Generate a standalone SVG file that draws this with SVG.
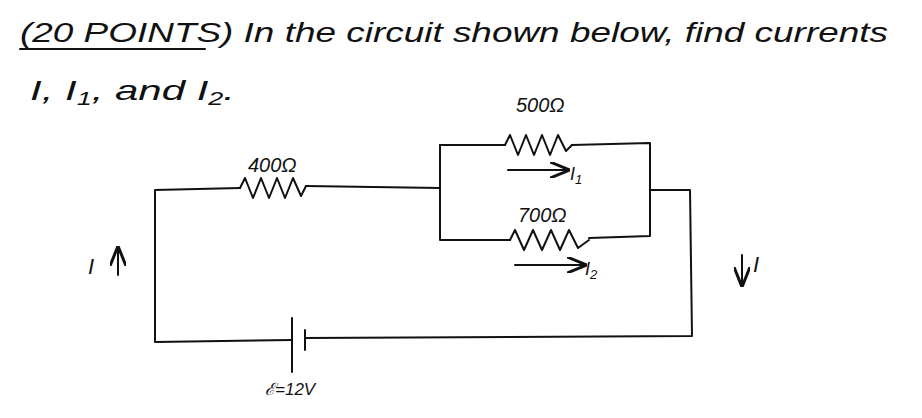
<svg xmlns="http://www.w3.org/2000/svg" width="922" height="418" viewBox="0 0 922 418">
<style>
.w{fill:none;stroke:#111;stroke-width:2;stroke-linecap:round;stroke-linejoin:round}
.t{font-family:"Liberation Sans",sans-serif;font-style:italic;fill:#111}
</style>
<defs><marker id="ah" markerWidth="10" markerHeight="8" refX="9" refY="4" orient="auto"><path d="M0,0 L10,4 L0,8" fill="none" stroke="#111" stroke-width="1.5"/></marker></defs>
<rect width="922" height="418" fill="#fff"/>
<g id="title">
<text class="t" x="20" y="42" font-size="28" textLength="868" lengthAdjust="spacingAndGlyphs">(20 POINTS)  In the circuit shown below, find currents</text>
<line class="w" x1="20" y1="49" x2="205" y2="49" stroke-width="1.5"/>
<text class="t" x="30" y="100" font-size="28" textLength="205" lengthAdjust="spacingAndGlyphs">I, I<tspan font-size="18" dy="5">1</tspan><tspan dy="-5">, and I</tspan><tspan font-size="18" dy="5">2</tspan><tspan dy="-5">.</tspan></text>
</g>
<g id="connectors">
<path class="w" d="M240,188 L155,190 L155,342 L292,340"/>
<path class="w" d="M306,186 L440,188"/>
<path class="w" d="M440,145 L440,240 L510,240"/>
<path class="w" d="M440,145 L505,145"/>
<path class="w" d="M572,145 L650,143 L650,236 L589,238"/>
<path class="w" d="M650,190 L690,190 L692,336 L305,338"/>
</g>
<g id="r400"><path class="w" d="M240,188 l5,-10 l8,20 l8,-20 l8,20 l8,-20 l8,20 l8,-20 l8,18 l5,-10"/><text class="t" x="248" y="172" font-size="20">400Ω</text></g>
<g id="r500"><path class="w" d="M505,145 l5,-10 l8,20 l8,-20 l8,20 l8,-20 l8,20 l8,-20 l8,16 l6,-6"/><text class="t" x="516" y="112" font-size="20">500Ω</text>
<line class="w" x1="508" y1="170" x2="568" y2="170" stroke-width="1.5" marker-end="url(#ah)"/><text class="t" x="570" y="180" font-size="18">I<tspan font-size="13" dy="4">1</tspan></text></g>
<g id="r700"><path class="w" d="M510,240 l5,-10 l9,20 l9,-20 l9,20 l9,-20 l9,20 l9,-20 l9,18 l11,-8"/><text class="t" x="518" y="222" font-size="20">700Ω</text>
<line class="w" x1="515" y1="265" x2="585" y2="265" stroke-width="1.5" marker-end="url(#ah)"/><text class="t" x="585" y="275" font-size="18">I<tspan font-size="13" dy="4">2</tspan></text></g>
<g id="battery"><line class="w" x1="292" y1="318" x2="292" y2="372"/><line class="w" x1="305" y1="330" x2="305" y2="350"/><text class="t" x="265" y="395" font-size="17">ℰ=12V</text></g>
<g id="iL"><text class="t" x="88" y="274" font-size="22">I</text><line class="w" x1="118" y1="275" x2="118" y2="248" stroke-width="1.5" marker-end="url(#ah)"/></g>
<g id="iR"><line class="w" x1="742" y1="255" x2="742" y2="285" stroke-width="1.5" marker-end="url(#ah)"/><text class="t" x="753" y="272" font-size="22">I</text></g>
</svg>
